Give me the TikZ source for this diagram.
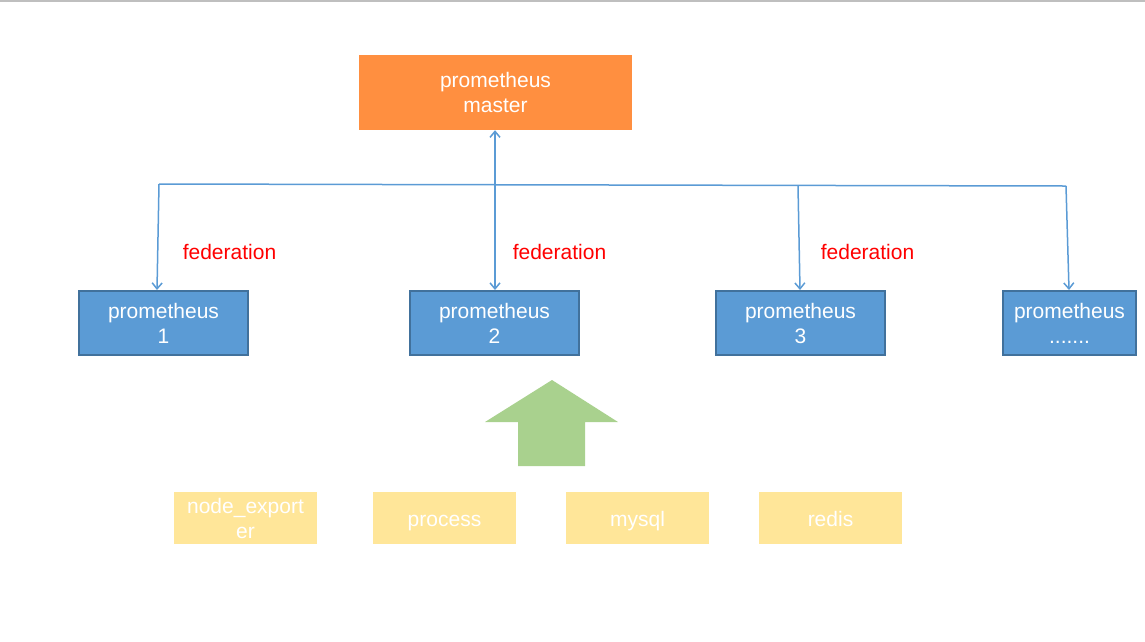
\documentclass[tikz,border=0pt]{standalone}
\usepackage{fontspec}
\setmainfont{Liberation Sans}
\usetikzlibrary{arrows.meta}
\definecolor{masterorange}{HTML}{FF8F40}
\definecolor{promblue}{HTML}{5B9BD5}
\definecolor{promborder}{HTML}{41719C}
\definecolor{linkblue}{HTML}{5B9BD5}
\definecolor{srcyellow}{HTML}{FFE699}
\definecolor{arrowgreen}{HTML}{A9D18E}
\definecolor{topgray}{HTML}{BFBFBF}
\begin{document}
\begin{tikzpicture}[x=1pt,y=-1pt,
  every node/.style={font=\fontsize{21}{25}\selectfont, align=center, inner sep=0pt},
  masterbox/.style={fill=masterorange, text=white, minimum width=273pt, minimum height=75pt},
  prombox/.style={fill=promblue, draw=promborder, line width=2pt, text=white, minimum width=169pt, minimum height=64pt},
  srcbox/.style={fill=srcyellow, text=white, minimum width=143pt, minimum height=52pt},
  oneline/.style={text height=16pt, text depth=0pt},
  fedlabel/.style={text=red},
  link/.style={draw=linkblue, line width=1.5pt},
  linkarrow/.style={link, -{Straight Barb[length=6pt,width=10pt,line width=1.5pt]}}
]
\useasboundingbox (0,0) rectangle (1145,641);
\fill[topgray] (0,0) rectangle (1145,2);

\node[masterbox] (master) at (495.5,92.5) {prometheus\\master};

\node[prombox] (p1) at (163.5,323) {prometheus\\1};
\node[prombox] (p2) at (494.5,323) {prometheus\\2};
\node[prombox] (p3) at (800.5,323) {prometheus\\3};
\node[prombox, minimum width=133pt] (p4) at (1069.5,323) {prometheus\\.......};

\coordinate (hl) at (159,184);
\coordinate (hr) at (1066,186);
\coordinate (h3) at (798,186);
\draw[link] (hl) -- (hr);
\draw[linkarrow] (hl) -- (p1.north -| 157,0);
\draw[linkarrow] (h3) -- (p3.north -| 800,0);
\draw[linkarrow] (hr) -- (p4.north -| 1069,0);
\draw[link, {Straight Barb[length=6pt,width=10pt,line width=1.5pt]}-{Straight Barb[length=6pt,width=10pt,line width=1.5pt]}] (master.south -| 495,0) -- (p2.north -| 495,0);

\node[fedlabel] (f1) at (229.5,252) {federation};
\node[fedlabel] (f2) at (559.5,252) {federation};
\node[fedlabel] (f3) at (867.5,252) {federation};

\fill[arrowgreen] (552,380) -- (618,422) -- (585,422) -- (585,466) -- (518,466) -- (518,422) -- (485,422) -- cycle;

\node[srcbox] (s1) at (245.5,518) {node\_export\\er};
\node[srcbox, oneline] (s2) at (444.5,518) {process};
\node[srcbox, oneline] (s3) at (637.5,518) {mysql};
\node[srcbox, oneline] (s4) at (830.5,518) {redis};
\end{tikzpicture}
\end{document}
